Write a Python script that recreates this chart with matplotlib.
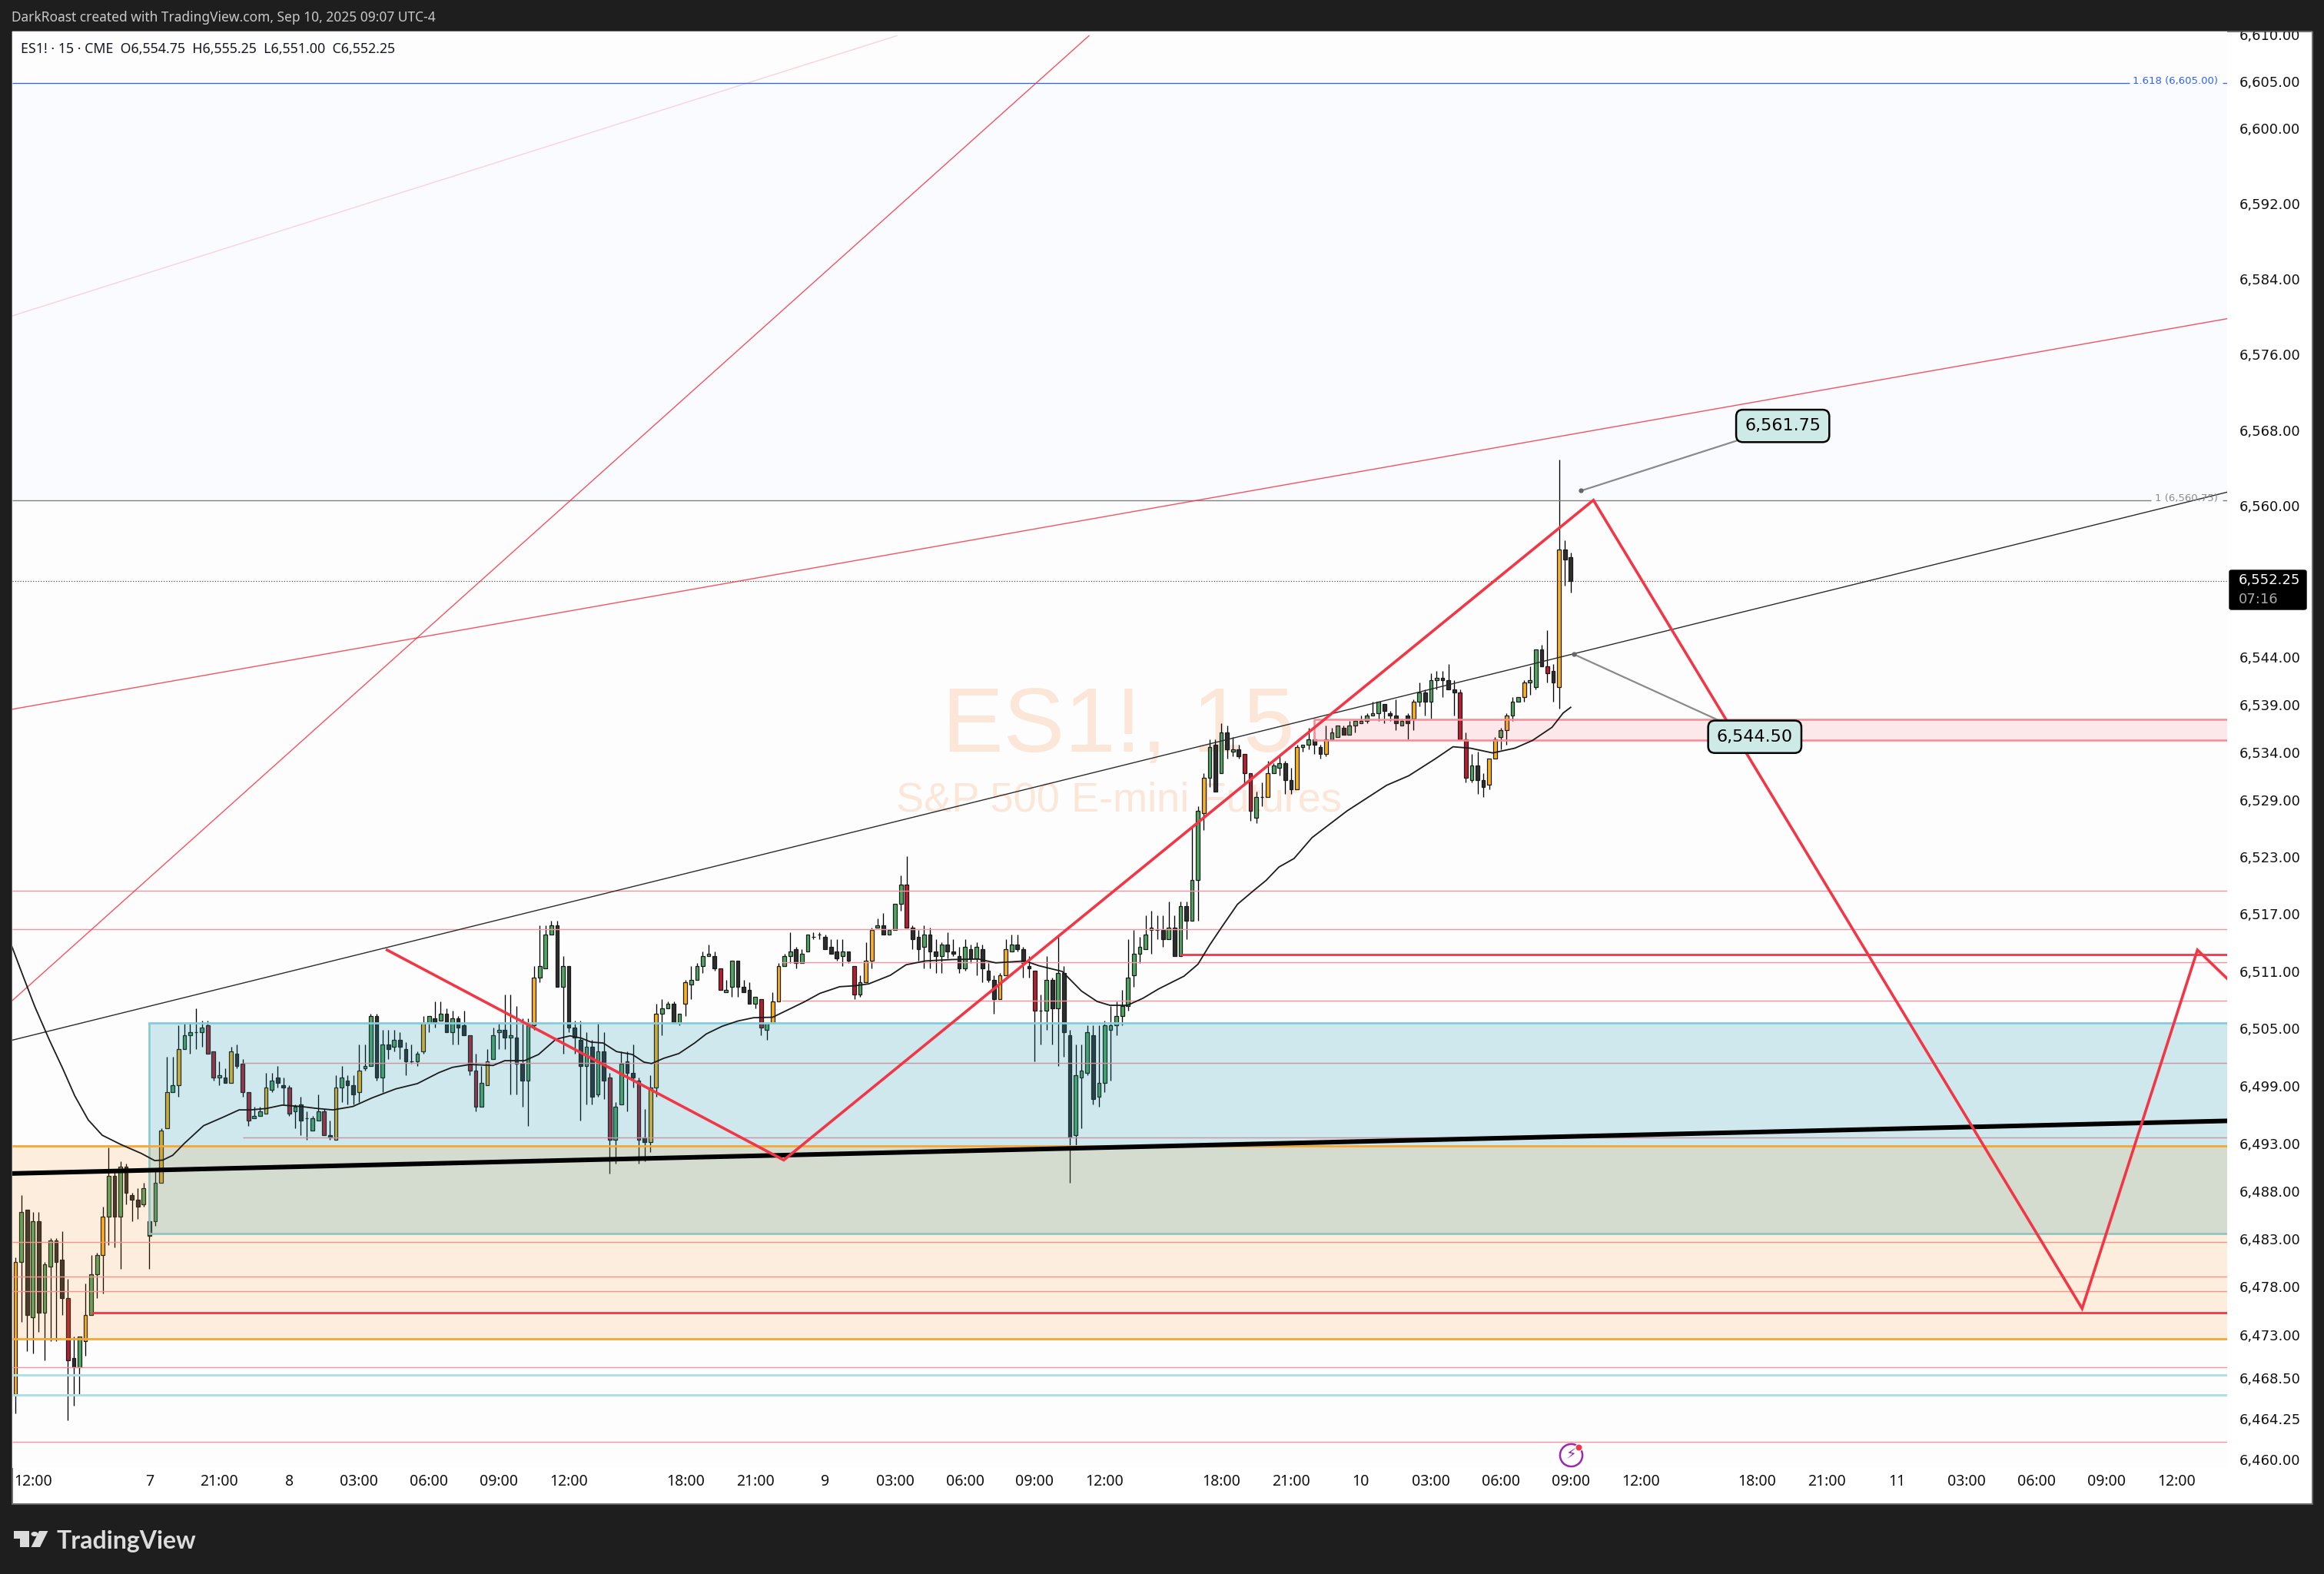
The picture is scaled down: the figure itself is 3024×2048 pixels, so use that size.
import numpy as np
import matplotlib
matplotlib.use("Agg")
import matplotlib.pyplot as plt
from matplotlib.patches import Rectangle, Polygon, Circle, FancyBboxPatch
from matplotlib.ticker import FixedLocator, FixedFormatter, NullLocator
from matplotlib.transforms import ScaledTranslation

W, H = 3024, 2048

# 15 minute candles, bar 0 is the session open labelled "7"
first_bar = -23
opens = [
    6467, 6480.75, 6486.25, 6475, 6485, 6475.5, 6480.25, 6483, 6481, 6477,
    6470.75, 6469.75, 6472.5, 6475.25, 6479.5, 6481.5, 6485.5, 6489.75, 6485.5, 6490.75,
    6487.75, 6487.25, 6486.75, 6485, 6485, 6489, 6494.75, 6498.5, 6499.25, 6503,
    6504.5, 6504.75, 6504.75, 6505.5, 6502.75, 6500, 6500, 6499.5, 6502.5, 6501.5,
    6498.5, 6495.75, 6496, 6496.25, 6498.75, 6500, 6499.25, 6499, 6496.5, 6497.25,
    6495.75, 6494.5, 6495.5, 6496.5, 6494, 6493.5, 6499, 6499.75, 6499.25, 6498.5,
    6501, 6501.25, 6506.5, 6500, 6503.5, 6503.25, 6504, 6503, 6501.75, 6501.75,
    6502.75, 6505.75, 6506.25, 6506, 6506.75, 6504.75, 6506.25, 6505.5, 6504.5, 6500.75,
    6497, 6499.25, 6502, 6504.75, 6505, 6504.25, 6504.25, 6501.5, 6499.75, 6505.5,
    6510.5, 6511.5, 6515, 6516, 6509.5, 6511.75, 6505.25, 6504, 6501.25, 6503.25,
    6498.25, 6502.75, 6500, 6493.5, 6497.25, 6501.75, 6500.5, 6499.75, 6493.75, 6493.25,
    6499, 6506.75, 6507.25, 6507.75, 6505.75, 6507.75, 6509.75, 6510.25, 6511.75, 6512.75,
    6512.75, 6511.5, 6509, 6509.5, 6512.25, 6509.5, 6509.25, 6507.75, 6508.25, 6505,
    6505.75, 6508, 6511.75, 6512.75, 6513.5, 6512, 6513.25, 6514.75, 6515, 6514.75,
    6513.75, 6513.25, 6512.75, 6513.25, 6511.75, 6508.75, 6510, 6512.25, 6515.75, 6516,
    6515, 6515.5, 6518.25, 6520.25, 6515.75, 6514.75, 6513.75, 6515, 6513.25, 6512.75,
    6514, 6513.25, 6512.75, 6511.5, 6513.5, 6512.5, 6513.5, 6511.25, 6510.25, 6508.25,
    6510.75, 6513.25, 6514, 6513.5, 6511.75, 6511.25, 6507, 6507, 6510.25, 6507.25,
    6511, 6504.5, 6494, 6500, 6500.5, 6504.5, 6498, 6499.5, 6505, 6505.5,
    6506.5, 6507.5, 6510.75, 6513, 6513.5, 6515.5, 6515.5, 6515.5, 6514.5, 6515.75,
    6512.75, 6518, 6516.5, 6520.75, 6527.75, 6531.5, 6535, 6532, 6536.25, 6534.25,
    6534.5, 6534, 6532, 6527.25, 6529.5, 6529.5, 6532, 6532.5, 6533, 6531.25,
    6530.25, 6534.75, 6535, 6535.5, 6534.75, 6534, 6535.5, 6535.75, 6536.75, 6536,
    6537, 6537.25, 6537.5, 6538, 6538.25, 6539.25, 6538.25, 6538, 6537, 6538,
    6537.75, 6539.5, 6540.5, 6539.5, 6541.75, 6542, 6541.75, 6540.75, 6540.5, 6535.5,
    6531.25, 6532.75, 6531.25, 6530.75, 6533.5, 6535.75, 6536.5, 6538, 6539.5, 6540,
    6541.5, 6541, 6545, 6543.25, 6542.75, 6541, 6555.5, 6554.75,
]
highs = [
    6481.25, 6487.75, 6486.25, 6486, 6486, 6480.75, 6483.25, 6483.25, 6484, 6479,
    6473, 6473, 6478.5, 6481.5, 6481.75, 6486.5, 6492.75, 6490.25, 6491.25, 6491,
    6488, 6488.5, 6489, 6490.25, 6490.25, 6494.75, 6502.25, 6502.25, 6505.5, 6505.75,
    6505.75, 6507.25, 6506, 6506, 6502.75, 6501.75, 6501, 6503.25, 6503.5, 6502,
    6498.5, 6497, 6497, 6500.5, 6500.5, 6501.25, 6500, 6499.25, 6497.25, 6498,
    6496.5, 6496, 6498.25, 6496.75, 6495.5, 6500.25, 6501.25, 6500.25, 6500.25, 6503.5,
    6503.5, 6506.75, 6506.75, 6505, 6505, 6505, 6504.75, 6503.75, 6503.5, 6502.75,
    6506.5, 6506.5, 6508, 6508, 6507.25, 6507, 6506.5, 6507, 6504.5, 6502.5,
    6501.25, 6503, 6505.25, 6505.75, 6508.75, 6508.75, 6507.5, 6506.25, 6506.25, 6511.75,
    6516, 6516, 6516.5, 6516.5, 6512.75, 6511.75, 6506, 6506, 6504.75, 6504,
    6505.75, 6504.75, 6500.5, 6497.5, 6502.75, 6502.75, 6503.5, 6500, 6496.75, 6500.25,
    6507.75, 6508.25, 6508, 6508, 6506.75, 6510.25, 6511.75, 6512, 6513.25, 6514,
    6513.25, 6511.5, 6510.25, 6512.25, 6512.25, 6510.25, 6510, 6508.5, 6508.25, 6505.75,
    6509, 6512, 6513, 6515.25, 6513.75, 6513.5, 6515, 6515.25, 6515.25, 6515,
    6514.5, 6514.5, 6514.5, 6513.25, 6511.75, 6510.75, 6514.25, 6515.75, 6516.75, 6517.25,
    6515.5, 6518.25, 6521.25, 6523.25, 6516, 6515.5, 6516, 6515.75, 6514.5, 6514.25,
    6515.25, 6514.5, 6513.75, 6514.5, 6514, 6514.25, 6514, 6512, 6510.75, 6511,
    6514.5, 6515, 6515, 6513.75, 6512.75, 6511.25, 6508.75, 6512.75, 6510.5, 6514.75,
    6511.75, 6505, 6503.5, 6503.5, 6505.5, 6505.5, 6505.5, 6506, 6507.5, 6508,
    6509.25, 6514.5, 6515.5, 6514.75, 6517, 6517.5, 6517, 6517, 6518.5, 6517,
    6518.5, 6518.5, 6526.25, 6528.5, 6532, 6535.5, 6535.5, 6537.25, 6537, 6535.75,
    6535, 6534, 6532, 6530, 6531, 6533.25, 6533, 6533.75, 6533.25, 6532.5,
    6535, 6535, 6536.75, 6536.25, 6535, 6537, 6536.75, 6537, 6537, 6537.5,
    6537.5, 6538, 6538.25, 6539.5, 6539.5, 6539.25, 6538.5, 6539.75, 6537.75, 6538.25,
    6539.75, 6541.5, 6540.75, 6542.5, 6542.75, 6542.75, 6543.5, 6541.75, 6540.75, 6536.25,
    6534, 6534.25, 6532, 6533.5, 6535.75, 6536.75, 6538.25, 6540, 6540, 6541.75,
    6543.25, 6545, 6545.5, 6547, 6543.5, 6565, 6556.5, 6555.25,
]
lows = [
    6465, 6474.5, 6471.5, 6471.25, 6473.5, 6470.5, 6472.5, 6472.5, 6475.25, 6464.25,
    6465.75, 6467, 6471, 6475.25, 6477, 6477.5, 6482.5, 6482.25, 6480, 6486.75,
    6485, 6485.25, 6486.5, 6480, 6484.5, 6489, 6494.75, 6498.5, 6498, 6503,
    6502.5, 6503, 6503.25, 6502.5, 6499.75, 6499.25, 6499.5, 6499.5, 6501, 6498,
    6495, 6495.75, 6496, 6496.25, 6498.5, 6499, 6497.25, 6496, 6494.75, 6494,
    6493.5, 6494.5, 6495.5, 6494, 6493.5, 6493.5, 6497.5, 6497.25, 6497.25, 6497.5,
    6500.75, 6501.25, 6499.75, 6498.5, 6502, 6502.75, 6502, 6500.25, 6501.5, 6501.25,
    6502.5, 6504.75, 6505.25, 6506, 6504.75, 6503.5, 6503.5, 6504.5, 6500.25, 6496.5,
    6497, 6499.25, 6502, 6503, 6503, 6498.25, 6498.25, 6497, 6495, 6505,
    6510, 6511.5, 6515, 6509.5, 6502.5, 6504.75, 6502.5, 6495.5, 6497.25, 6497.25,
    6498, 6497.75, 6490, 6491, 6497.25, 6496.5, 6499, 6491, 6491.25, 6492.25,
    6498, 6504.5, 6507.25, 6505.75, 6505.5, 6506.5, 6508.25, 6510.25, 6511, 6512.75,
    6511.25, 6509.25, 6509, 6508.5, 6508.5, 6509, 6507.75, 6507.25, 6504.5, 6504,
    6505.75, 6508, 6511.75, 6512, 6511.5, 6512, 6513.25, 6514.5, 6514.5, 6513.5,
    6513, 6512.25, 6511.75, 6512, 6508.25, 6508.5, 6510, 6511.5, 6515.75, 6515,
    6515, 6515.5, 6517.5, 6515.75, 6513.5, 6512.25, 6511.5, 6511.5, 6511, 6511,
    6512.5, 6512.75, 6511, 6511.25, 6512, 6510.75, 6510, 6510, 6506.75, 6508.25,
    6510.75, 6513.25, 6513.25, 6510.5, 6510.5, 6501.75, 6503.5, 6505, 6503.5, 6501.25,
    6502.25, 6489, 6493, 6494.75, 6500.25, 6497.25, 6497, 6498.5, 6499.75, 6504.5,
    6505.5, 6507, 6509.5, 6512, 6513.5, 6513, 6514.5, 6513.75, 6514.5, 6512.75,
    6512.75, 6514.5, 6516.5, 6516.5, 6526, 6530.5, 6530, 6532, 6533.5, 6533.75,
    6533.5, 6530.75, 6527, 6526.75, 6528.5, 6529.5, 6532, 6531.75, 6529.75, 6529.75,
    6530.25, 6534.25, 6534.5, 6534, 6533.5, 6533.75, 6535.5, 6535.75, 6536, 6536,
    6536.25, 6537.25, 6537.25, 6538, 6537.5, 6537.25, 6537.5, 6536.5, 6537, 6535.5,
    6536.5, 6539, 6538, 6537.75, 6540.75, 6540, 6540.75, 6538, 6535.5, 6531,
    6531, 6529.75, 6529.5, 6530.25, 6533.5, 6534.5, 6535, 6537.5, 6539.5, 6539.5,
    6540.25, 6540.75, 6543.25, 6541.5, 6539.5, 6538.75, 6551.75, 6551,
]
closes = [
    6480.75, 6486, 6475.25, 6485, 6475.5, 6480.5, 6483, 6480.75, 6477, 6470.5,
    6469.75, 6473, 6475.25, 6479.5, 6481.5, 6485.5, 6489.75, 6485.5, 6490.75, 6488,
    6487.25, 6486.5, 6488.5, 6483.5, 6489, 6494.5, 6498.5, 6499.25, 6503, 6504.5,
    6504.75, 6504.75, 6505.25, 6502.5, 6500, 6500.25, 6499.5, 6502.75, 6501.25, 6498.5,
    6495.5, 6496, 6496.5, 6499, 6499.75, 6499.5, 6499, 6496.25, 6497, 6495.5,
    6495.75, 6495.75, 6496.5, 6494, 6493.75, 6499, 6500, 6499.25, 6498.25, 6500.75,
    6501.25, 6506.5, 6500, 6503.5, 6503, 6504, 6503.25, 6501.75, 6501.75, 6502.5,
    6505.75, 6506.5, 6505.75, 6506.75, 6504.75, 6506.25, 6505.25, 6504.5, 6500.75, 6497,
    6499.5, 6501.75, 6504.5, 6505, 6504.25, 6504.5, 6501.5, 6499.75, 6505.5, 6510.5,
    6511.75, 6515, 6516, 6509.5, 6511.75, 6505.25, 6504.25, 6501.25, 6503.25, 6498,
    6502.75, 6499.75, 6493.5, 6497, 6501.5, 6500.5, 6500, 6493.5, 6493.25, 6499,
    6506.75, 6507.25, 6507.75, 6505.75, 6506.75, 6510, 6510.25, 6511.75, 6512.75, 6513,
    6511.5, 6509.25, 6509.25, 6512.25, 6509.5, 6509, 6507.75, 6508.5, 6505.25, 6505.75,
    6508, 6511.75, 6512.75, 6513.25, 6512, 6513, 6515, 6514.75, 6515, 6513.5,
    6513, 6512.5, 6513.25, 6512.25, 6508.75, 6510, 6512.25, 6515.5, 6516, 6515,
    6515.5, 6518.25, 6520.25, 6515.75, 6514.5, 6513.5, 6515, 6513.25, 6512.75, 6514,
    6513.25, 6513, 6511.5, 6513.75, 6512.5, 6513.75, 6511.5, 6510.25, 6508.25, 6510.75,
    6513.5, 6514, 6513.5, 6512, 6511.5, 6507, 6507, 6510.25, 6507.25, 6511,
    6504.75, 6493.75, 6500.25, 6500.75, 6504.75, 6497.75, 6499.5, 6505.5, 6505.5, 6506.5,
    6507.5, 6510.5, 6513, 6513.75, 6515, 6515.75, 6515.5, 6514.5, 6515.75, 6512.75,
    6518, 6516.5, 6520.75, 6528, 6531.5, 6534.75, 6530, 6536.25, 6534.5, 6534.5,
    6533.75, 6532, 6528, 6529.5, 6529.5, 6532, 6532.75, 6533, 6531.25, 6530.25,
    6534.75, 6535, 6535.5, 6535, 6534, 6535.5, 6536.25, 6537, 6536, 6537,
    6537.5, 6537.5, 6538, 6538.25, 6539.5, 6538.5, 6538, 6537.25, 6537.5, 6537.25,
    6539.5, 6540.5, 6539.5, 6541.75, 6542, 6541.75, 6540.75, 6540.5, 6535.5, 6531.5,
    6532.75, 6531.25, 6530.5, 6533.5, 6535.5, 6536.5, 6538, 6539.5, 6540, 6541.5,
    6541.75, 6545, 6543.25, 6542.5, 6541.5, 6555.5, 6554.5, 6552.25,
]
kinds = (
    "ygkgkggkkr" "kgyggygkgk" "kkgkgyygyg" "gkgrrgkykr" "rggygkkrgk"
    "kggrkygkky" "ggkgkgkkkg" "ygkgkgkkrr" "gyggkgkkgy" "gggkgkkkgk"
    "gkrggkkrky" "yggkgygggg" "krggkkkgrg" "yyggkggkkk" "kkgkrgyygk"
    "gggrkkgkkg" "kkkgkgkkky" "ygkkkrkgkg" "kkgggkgggg" "ggggggkkgk"
    "gkggygkgkg" "krrgkyggkk" "yggkkyggkg" "gggggkkkgk" "ygkggkkkrr"
    "gkkyygyggy" "ggkrkykk"
)

# moving average trace
ma_bars = [
    -23.6, -21.9, -19.7, -17.2, -14.9, -12.8, -10.5, -8.1, -4.8, -1.4, 0.9, 2.3, 4, 6, 9.3, 12.7,
    15.4, 17.4, 20.1, 22.8, 26.1, 28.8, 31.5, 34.9, 38.2, 42.3, 46, 49.7, 52, 55, 59, 61, 64.4,
    66.8, 69.8, 72.2, 74.2, 75.8, 77.9, 80.2, 82.9, 84.9, 86.2, 88.3, 90.9, 93.6, 95.6, 98.3, 101,
    103.7, 107, 109.7, 112.4, 115.1, 118.5, 121.1, 123.5, 127.2, 129.9, 133.2, 137.9, 142.3, 145.3,
    150.3, 152.7, 156.7, 160, 162.7, 164.9, 167.9, 170.6, 173.2, 177.6, 180, 182, 184.2, 186.8,
    189.5, 191.7, 193.9, 196.5, 199.6, 205.6, 212.4, 216.2, 220.8, 223.8, 226.8, 230.6, 234.4,
    237.4, 240.8, 242.7, 244,
]
ma_values = [
    6513.75, 6511, 6507.5, 6504, 6501, 6498.1, 6495.6, 6494, 6493, 6492.1, 6491.35, 6491.4, 6491.9,
    6493.15, 6495, 6495.9, 6496.65, 6496.65, 6496.8, 6497.15, 6497, 6496.8, 6496.65, 6497, 6497.9,
    6498.85, 6499.4, 6500.55, 6501.1, 6501.4, 6501.3, 6501.8, 6501.8, 6502.45, 6504.05, 6504.4,
    6504.15, 6503.75, 6503.65, 6502.75, 6502.45, 6501.65, 6501.5, 6502.05, 6502.55, 6503.65, 6504.6,
    6505.4, 6505.95, 6506.3, 6506.35, 6507.15, 6507.95, 6508.85, 6509.55, 6509.65, 6509.85, 6510.75,
    6511.85, 6512.25, 6512.4, 6512.45, 6512.05, 6512.25, 6511.75, 6511.15, 6509.1, 6508, 6507.6,
    6507.6, 6508.35, 6509.3, 6510.65, 6511.9, 6513.9, 6515.9, 6518.2, 6519.6, 6520.7, 6522.1, 6523,
    6525.2, 6528, 6530.7, 6531.7, 6533.5, 6534.75, 6534.6, 6534.1, 6534.6, 6535.4, 6536.8, 6538.3,
    6538.9,
]

# price and time axis labels
price_ticks = [6610, 6605, 6600, 6592, 6584, 6576, 6568, 6560, 6544, 6539, 6534, 6529, 6523, 6517,
               6511, 6505, 6499, 6493, 6488, 6483, 6478, 6473, 6468.5, 6464.25, 6460]
time_bars = [-20, 0, 12, 24, 36, 48, 60, 72, 92, 104, 116, 128, 140, 152, 164, 184, 196, 208, 220,
             232, 244, 256, 276, 288, 300, 312, 324, 336, 348]
time_labels = ["12:00", "7", "21:00", "8", "03:00", "06:00", "09:00", "12:00", "18:00", "21:00", "9",
               "03:00", "06:00", "09:00", "12:00", "18:00", "21:00", "10", "03:00", "06:00", "09:00",
               "12:00", "18:00", "21:00", "11", "03:00", "06:00", "09:00", "12:00"]

# horizontal levels
pink_full = [6519.6, 6515.6, 6482.85, 6479.2, 6477.75, 6469.8, 6462]
pink_from_16 = [6501.6, 6493.75]
pink_from_108 = [6512.15, 6508.1]
aqua_levels = [6469, 6466.9]
last_price = 6552.25

# drawn path and trend lines (bar, price)
path_bars = [40.8, 108.9, 247.9, 331.8, 351.6, 356.7]
path_prices = [6513.4, 6491.4, 6560.75, 6475.9, 6513.4, 6510.4]
left_edge, right_edge = -23.54, 356.7
support_prices = [6490.0, 6495.5]
channel_prices = [6503.95, 6561.6]
upper_prices = [6538.7, 6579.95]
steep_bars = [-23.54, 161.3]
steep_prices = [6508.1, 6610]
pale_bars = [-23.54, 128.3]
pale_prices = [6580.25, 6610]

kind_colors = {"g": "#4fa862", "k": "#2e2e2e", "y": "#f9b21d", "r": "#b4202f"}
RED = "#f23645"
PINK = "#f7939d"


def fx(px):
    return px / W


def fy(py):
    return 1 - py / H


fig = plt.figure(figsize=(W / 100, H / 100), dpi=100, facecolor="#1e1e1e")

# white strips behind the two axes, with their thin borders
fig.add_artist(Rectangle((fx(16), fy(1957)), fx(3009 - 16), 1916 / H, transform=fig.transFigure,
                         fc="white", ec="#6a6a6a", lw=1.4, zorder=-1))

ax = fig.add_axes([fx(16), fy(1910), fx(2898 - 16), (1910 - 41) / H], facecolor="#fefdfd")
ax.set_yscale("log")
ax.set_xlim(left_edge, right_edge)
ax.set_ylim(6459.3, 6610.45)
for s in ax.spines.values():
    s.set_visible(False)

bars = first_bar + np.arange(len(opens))
o, h, l, c = map(np.array, (opens, highs, lows, closes))
colors = [kind_colors[k] for k in kinds]
ax.vlines(bars, l, h, color="black", lw=0.95, zorder=2)
ax.bar(bars, np.abs(c - o), bottom=np.minimum(o, c), width=0.62, color=colors,
       edgecolor="#1a1a1a", linewidth=0.9, zorder=2.1)
ax.plot(ma_bars, ma_values, color="#1c1c1c", lw=1.3, zorder=5)

# fib extension band and zones sit over the candles
ax.axhspan(6560.75, 6605, facecolor="#fafbff", zorder=0)
ax.hlines(6605, left_edge, 339.9, color="#2962ff", lw=0.9, zorder=3)
ax.hlines(6605, 355.9, right_edge, color="#2962ff", lw=0.9, zorder=3)
ax.hlines(6560.75, left_edge, 343.6, color="#808080", lw=1.0, zorder=3)
ax.hlines(6560.75, 355.9, right_edge, color="#808080", lw=1.0, zorder=3)
ax.text(355.1, 6605.2, "1.618 (6,605.00)", color="#2962ff", fontsize=9.5, ha="right", va="center",
        family="DejaVu Sans", zorder=6)
ax.text(355.1, 6560.95, "1 (6,560.75)", color="#8c8c8c", fontsize=9.5, ha="right", va="center",
        family="DejaVu Sans", zorder=6)
ax.hlines(last_price, left_edge, right_edge, color="#333333", lw=0.8, linestyles=(0, (1, 2)), zorder=3)

ax.hlines(pink_full, left_edge, right_edge, color=PINK, lw=1.0, zorder=3)
ax.hlines(pink_from_16, 16, right_edge, color=PINK, lw=1.0, zorder=3)
ax.hlines(pink_from_108, 108.5, right_edge, color=PINK, lw=1.0, zorder=3)
ax.hlines(aqua_levels, left_edge, right_edge, color="#aee0e5", lw=2.2, zorder=3)

ax.add_patch(Rectangle((0, 6483.75), right_edge + 5, 6505.75 - 6483.75, fc=(0.078, 0.588, 0.686, 0.2),
                       ec="#85ccd8", lw=2.0, zorder=3))
ax.axhspan(6472.75, 6492.85, facecolor="#f5921c", alpha=0.14, lw=0, zorder=3.1)
ax.hlines([6492.85, 6472.75], left_edge, right_edge, color="#f5a733", lw=2.0, zorder=3.2)
ax.add_patch(Rectangle((200, 6535.45), right_edge, 6537.6 - 6535.45, fc=(0.95, 0.21, 0.27, 0.1),
                       ec="#f88a94", lw=1.8, zorder=3))
ax.hlines(6475.45, -10, right_edge, color=RED, lw=2.0, zorder=4)
ax.hlines(6512.9, 177, right_edge, color=RED, lw=2.0, zorder=4)

# trend lines
ax.plot([left_edge, right_edge], upper_prices, color=RED, lw=1.0, alpha=0.85, zorder=4)
ax.plot(steep_bars, steep_prices, color=RED, lw=1.0, alpha=0.85, zorder=4)
ax.plot(pale_bars, pale_prices, color="#f9d3da", lw=1.0, zorder=1)
ax.plot([left_edge, right_edge], channel_prices, color="#2b2b2b", lw=1.0, zorder=4)
ax.plot([left_edge, right_edge], support_prices, color="black", lw=4.3, zorder=6, solid_capstyle="butt")
ax.plot(path_bars, path_prices, color=RED, lw=2.6, zorder=7, solid_joinstyle="miter")

# watermark
ax.text(166.4, 6536.7, "ES1!, 15", color="#fce6d8", fontsize=86, family="Liberation Sans",
        ha="center", va="center", zorder=1)
ax.text(166.4, 6529.1, "S&P 500 E-mini Futures", color="#fce6d8", fontsize=39, family="Liberation Sans",
        ha="center", va="center", zorder=1)

# price callouts
for anchor_bar, anchor, box_bar, box_price, text in [(245.8, 6561.75, 280.4, 6568.6, "6,561.75"),
                                                     (244.5, 6544.5, 275.6, 6535.8, "6,544.50")]:
    ax.annotate(text, xy=(anchor_bar, anchor), xytext=(box_bar, box_price), fontsize=16,
                family="DejaVu Sans", ha="center", va="center", color="black", zorder=9,
                bbox=dict(boxstyle="round,pad=0.5,rounding_size=0.4", fc="#cdeae6", ec="black", lw=1.8),
                arrowprops=dict(arrowstyle="-", color="#8a8a8a", lw=1.6, shrinkA=0, shrinkB=0))
    ax.plot([anchor_bar], [anchor], "o", ms=3.5, color="#666666", zorder=9)

# alert marker at the foot of the chart
ax.plot([244], [6460.65], "o", ms=21, mfc="white", mec="#9c27b0", mew=1.8, zorder=9)
ax.text(244, 6460.65, "\u26a1", color="#8e24aa", fontsize=14, family="DejaVu Sans", ha="center",
        va="center", zorder=10)
ax.plot([245.4], [6461.45], "o", ms=6.5, mfc="#f23645", mec="white", mew=0.8, zorder=11)

# axes
ax.yaxis.tick_right()
ax.yaxis.set_major_locator(FixedLocator(price_ticks))
ax.yaxis.set_major_formatter(FixedFormatter([f"{p:,.2f}" for p in price_ticks]))
ax.yaxis.set_minor_locator(NullLocator())
ax.tick_params(axis="y", length=0, pad=11, labelsize=13, labelcolor="#111111")
# price labels sit a touch above their level
label_nudge = ScaledTranslation(0, 2 / 100, fig.dpi_scale_trans)
for tick in ax.yaxis.get_major_ticks():
    tick.label2.set_transform(tick.label2.get_transform() + label_nudge)
ax.set_xticks(time_bars)
ax.set_xticklabels(time_labels, family="Noto Sans", fontsize=14, color="#111111")
ax.tick_params(axis="x", length=0, pad=6)

# top band hides the clipped tick label, then the header and legend
fig.add_artist(Rectangle((0, fy(41)), 1, 41 / H, transform=fig.transFigure, fc="#1e1e1e", ec="none", zorder=10))
fig.add_artist(Rectangle((fx(16), fy(41)), fx(2993), 1.4 / H, transform=fig.transFigure, fc="#6a6a6a",
                         ec="none", zorder=11))
fig.text(fx(15), fy(23), "DarkRoast created with TradingView.com, Sep 10, 2025 09:07 UTC-4", color="#c8c8c8",
         fontsize=12.5, family="Noto Sans", va="center", zorder=12)
fig.text(fx(27), fy(64), "ES1! \u00b7 15 \u00b7 CME  O6,554.75  H6,555.25  L6,551.00  C6,552.25", color="#131722",
         fontsize=12.8, family="Noto Sans", va="center", zorder=12)

# last price tag on the axis
fig.add_artist(FancyBboxPatch((fx(2901), fy(793)), fx(100), 51 / H, transform=fig.transFigure,
                              boxstyle="round,pad=0,rounding_size=0.001", fc="black", ec="black", zorder=12))
fig.text(fx(2913), fy(755), "6,552.25", color="white", fontsize=13, family="DejaVu Sans", va="center", zorder=13)
fig.text(fx(2913), fy(780), "07:16", color="#a8a8a8", fontsize=13, family="DejaVu Sans", va="center", zorder=13)

# brand mark in the footer
logo_color = "#dcdcdc"
to_fig = lambda pts: [(fx(x), fy(y)) for x, y in pts]
fig.add_artist(Polygon(to_fig([(18, 1992), (38, 1992), (38, 2013), (26, 2013), (26, 2002), (18, 2002)]),
                       closed=True, fc=logo_color, ec="none", transform=fig.transFigure, zorder=12))
fig.add_artist(Polygon(to_fig([(51, 1992), (62.5, 1992), (52, 2013), (40.5, 2013)]),
                       closed=True, fc=logo_color, ec="none", transform=fig.transFigure, zorder=12))
fig.add_artist(Circle((fx(45), fy(1996)), 4.5 / W, fc=logo_color, ec="none", transform=fig.transFigure, zorder=12))
fig.text(fx(74), fy(2005), "TradingView", color=logo_color, fontsize=23, family="Lato", fontweight="bold",
         va="center", zorder=12)

fig.savefig("out.png", dpi=100, facecolor=fig.get_facecolor())
